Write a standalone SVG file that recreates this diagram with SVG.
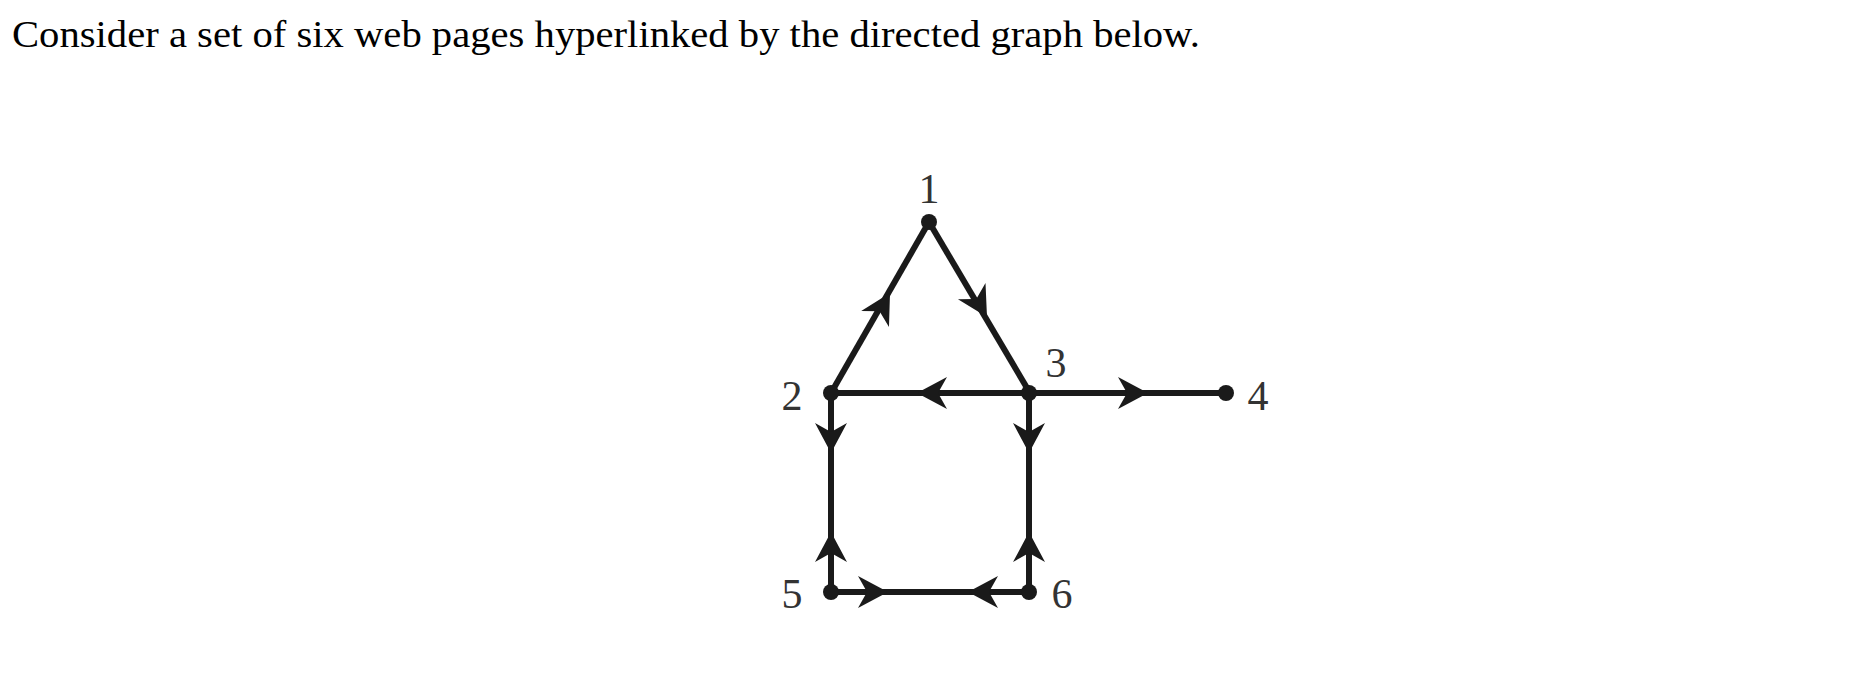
<svg xmlns="http://www.w3.org/2000/svg" xmlns:xlink="http://www.w3.org/1999/xlink" width="1854" height="682" viewBox="0 0 1854 682">
<style>
.e{stroke:#1a1a1a;stroke-width:6;fill:none}
.n{fill:#1a1a1a}
.l{font-family:"Liberation Serif",serif;font-size:42px;fill:#333;text-anchor:middle}
.t{font-family:"Liberation Serif",serif;font-size:38px;fill:#000}
</style>
<defs><path id="ah" d="M0,0 L-30,-16 L-21,0 L-30,16 Z" fill="#1a1a1a"/></defs>
<rect width="1854" height="682" fill="#fff"/>
<text class="t" x="12" y="47" textLength="1188" lengthAdjust="spacingAndGlyphs">Consider a set of six web pages hyperlinked by the directed graph below.</text>
<g id="connectors">
<line class="e" x1="831" y1="393" x2="929" y2="222"/>
<line class="e" x1="929" y1="222" x2="1030" y2="393"/>
<line class="e" x1="831" y1="393" x2="1226" y2="393"/>
<line class="e" x1="831" y1="393" x2="831" y2="592"/>
<line class="e" x1="1029" y1="393" x2="1029" y2="592"/>
<line class="e" x1="831" y1="592" x2="1029" y2="592"/>
<use xlink:href="#ah" transform="translate(890,293) rotate(-60.2)"/>
<use xlink:href="#ah" transform="translate(987,317) rotate(59.4)"/>
<use xlink:href="#ah" transform="translate(917,393) rotate(180)"/>
<use xlink:href="#ah" transform="translate(1148,393)"/>
<use xlink:href="#ah" transform="translate(831,453) rotate(90)"/>
<use xlink:href="#ah" transform="translate(1029,453) rotate(90)"/>
<use xlink:href="#ah" transform="translate(831,532) rotate(-90)"/>
<use xlink:href="#ah" transform="translate(1029,532) rotate(-90)"/>
<use xlink:href="#ah" transform="translate(888,592)"/>
<use xlink:href="#ah" transform="translate(968,592) rotate(180)"/>
</g>
<g id="n1"><circle class="n" cx="929" cy="222" r="8"/><text class="l" x="929" y="203">1</text></g>
<g id="n2"><circle class="n" cx="831" cy="393" r="8"/><text class="l" x="792" y="410">2</text></g>
<g id="n3"><circle class="n" cx="1029" cy="393" r="8"/><text class="l" x="1056" y="377">3</text></g>
<g id="n4"><circle class="n" cx="1226" cy="393" r="8"/><text class="l" x="1258" y="410">4</text></g>
<g id="n5"><circle class="n" cx="831" cy="592" r="8"/><text class="l" x="792" y="608">5</text></g>
<g id="n6"><circle class="n" cx="1029" cy="592" r="8"/><text class="l" x="1062" y="608">6</text></g>
</svg>
